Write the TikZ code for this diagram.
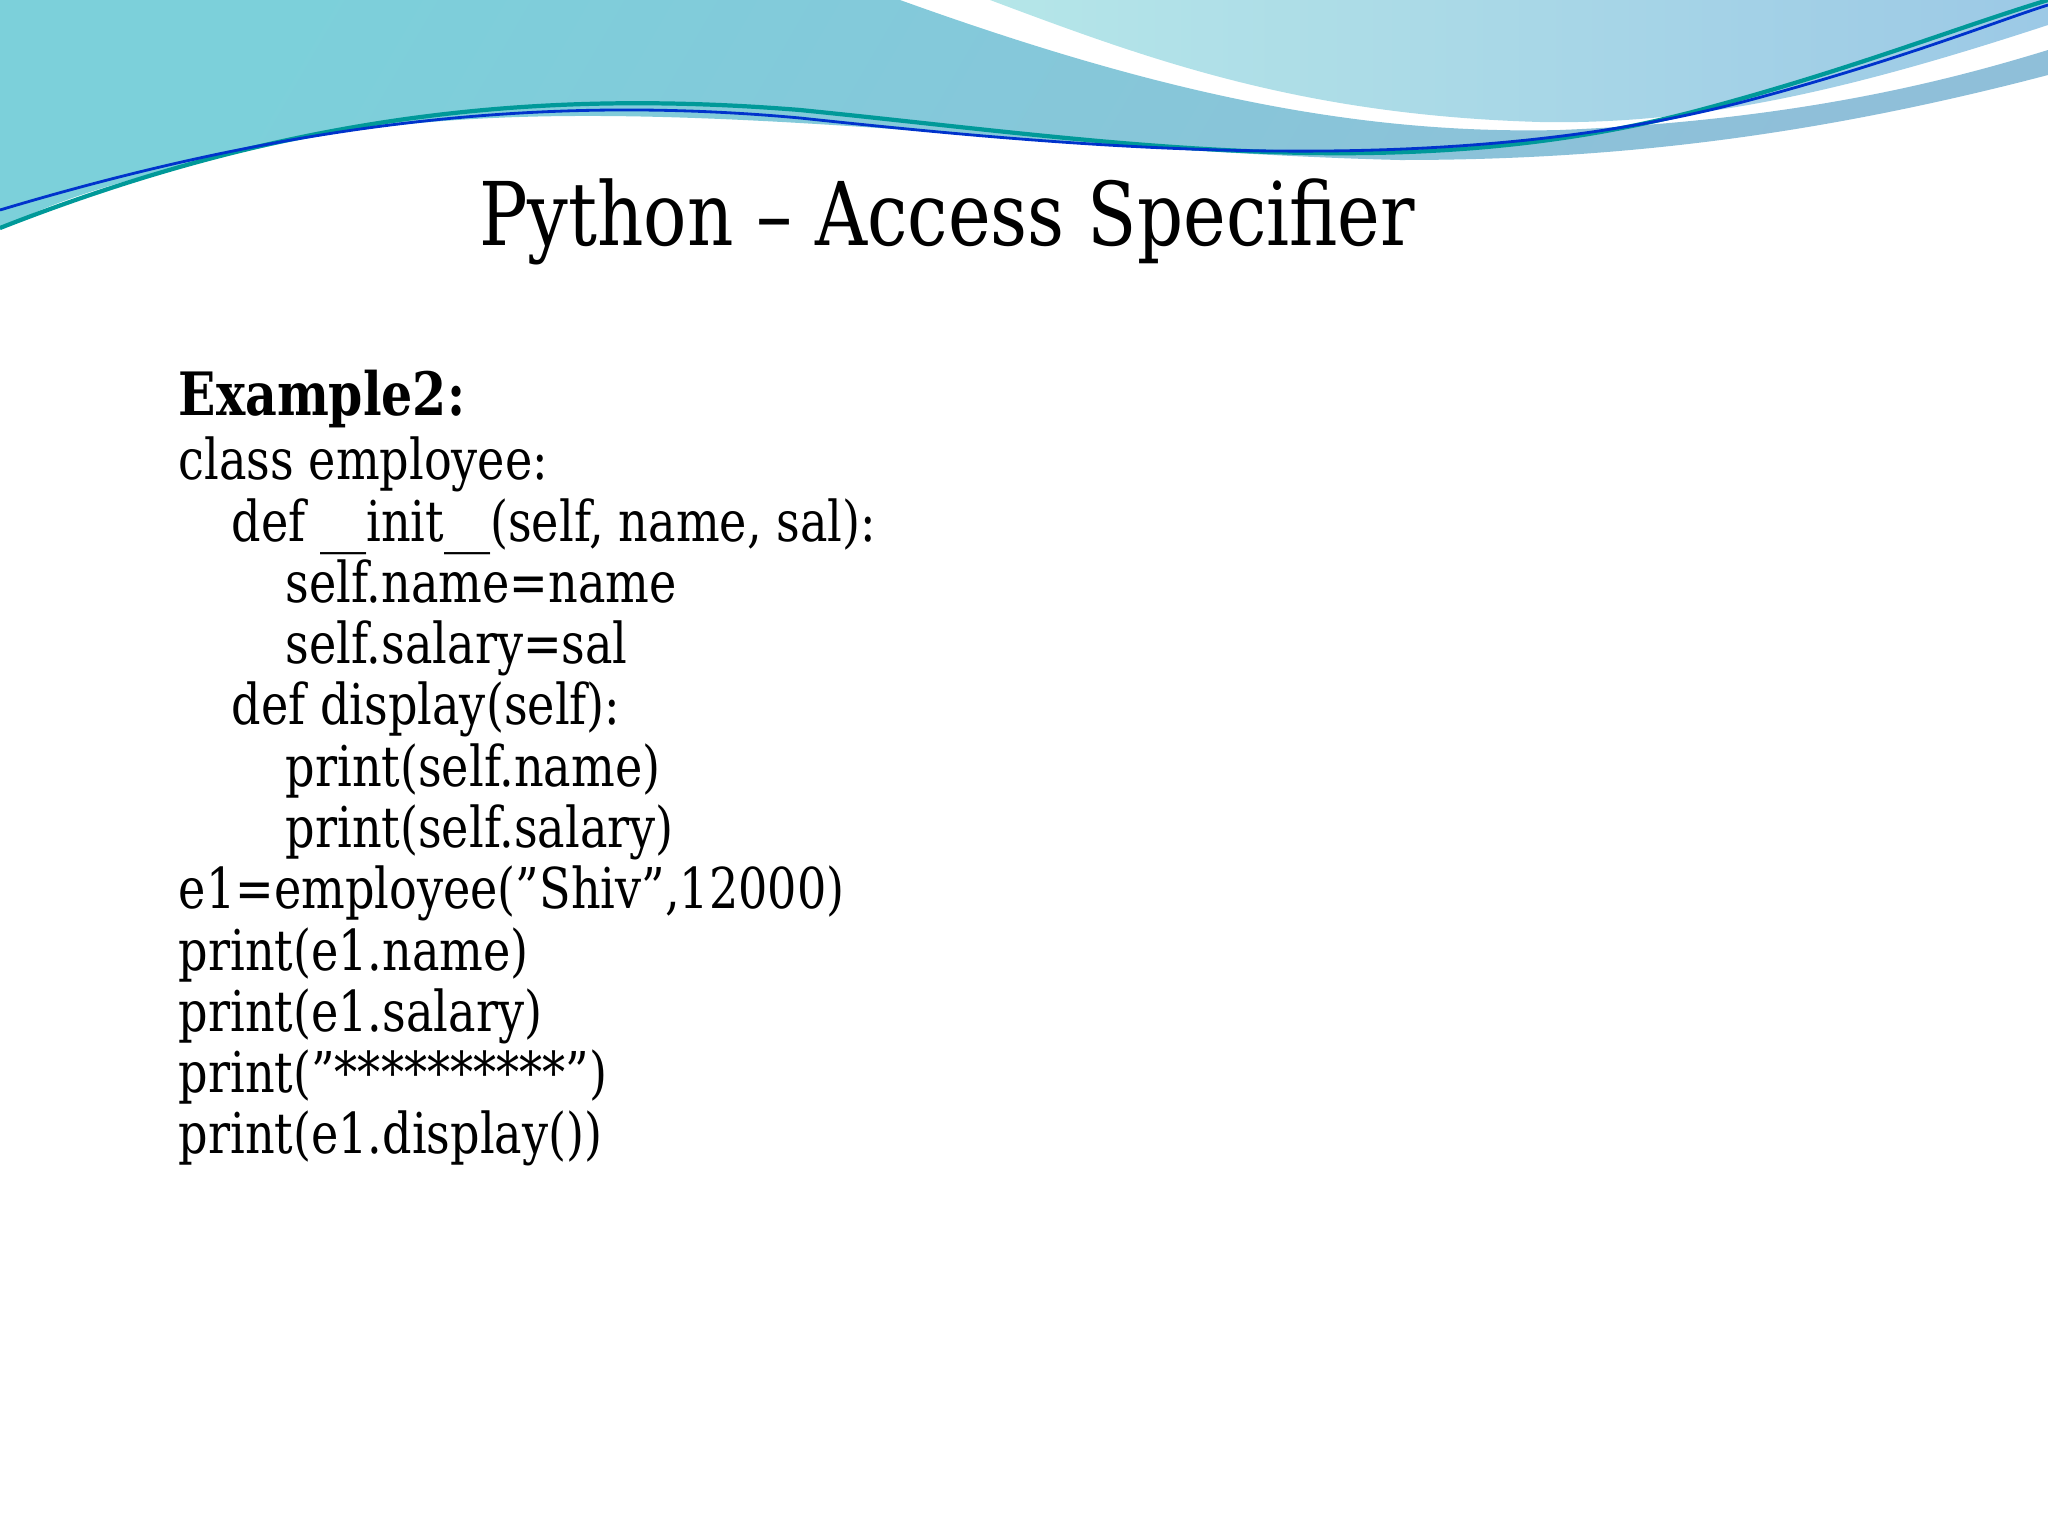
\documentclass[tikz,border=0pt]{standalone}
\usepackage{fontspec}
\setmainfont{DejaVu Serif}
\definecolor{bandL}{HTML}{7CD0DA}
\definecolor{bandR}{HTML}{8FBFD9}
\definecolor{lightL}{HTML}{B5E6E8}
\definecolor{lightR}{HTML}{9CC9E6}
\newcommand{\sq}[1]{\scalebox{0.82}[1]{#1}}
\begin{document}
\begin{tikzpicture}[x=0.01cm,y=-0.01cm,
  code/.style={anchor=base west,inner sep=0pt,font=\fontsize{16}{19}\selectfont}]
\useasboundingbox (0,0) rectangle (2048,1536);
% main band
\shade[left color=bandL, right color=bandR, shading angle=60]
  (0,0) -- (900,0) .. controls (1150,90) and (1350,135) .. (1560,130)
  .. controls (1800,120) and (1950,80) .. (2048,50) -- (2048,75)
  .. controls (1800,140) and (1600,160) .. (1400,160)
  .. controls (1000,150) and (600,80) .. (300,140)
  .. controls (150,170) and (50,200) .. (0,230) -- cycle;
% right light region
\shade[left color=lightL, right color=lightR]
  (990,0) -- (2048,0) -- (2048,25) .. controls (1850,90) and (1700,125) .. (1540,122)
  .. controls (1300,115) and (1150,60) .. (990,0) -- cycle;
\draw[teal!80!cyan, line width=1.2pt]
  (0,228) .. controls (300,110) and (550,90) .. (800,110)
  .. controls (1100,140) and (1400,190) .. (1700,110) .. controls (1850,70) and (1950,30) .. (2048,0);
\draw[blue!60!teal, line width=0.8pt]
  (0,210) .. controls (300,120) and (550,95) .. (800,118)
  .. controls (1100,150) and (1450,180) .. (1750,100) .. controls (1900,60) and (2000,20) .. (2048,5);
\node[anchor=base,inner sep=0pt,font=\fontsize{25}{30}\selectfont] (title) at (947,245) {\sq{Python – Access Specifier}};
\node[code,font=\fontsize{17}{20}\selectfont\bfseries] (ex) at (178,415) {\sq{Example2:}};
\node[code] (l1) at (178,479) {\sq{class employee:}};
\node[code] (l2) at (231,541) {\sq{def \_\_init\_\_(self, name, sal):}};
\node[code] (l3) at (285,602) {\sq{self.name=name}};
\node[code] (l4) at (285,663) {\sq{self.salary=sal}};
\node[code] (l5) at (231,724) {\sq{def display(self):}};
\node[code] (l6) at (285,786) {\sq{print(self.name)}};
\node[code] (l7) at (285,847) {\sq{print(self.salary)}};
\node[code] (l8) at (178,908) {\sq{e1=employee(\symbol{34}Shiv\symbol{34},12000)}};
\node[code] (l9) at (178,970) {\sq{print(e1.name)}};
\node[code] (l10) at (178,1031) {\sq{print(e1.salary)}};
\node[code] (l11) at (178,1092) {\sq{print(\symbol{34}**********\symbol{34})}};
\node[code] (l12) at (178,1153) {\sq{print(e1.display())}};
\end{tikzpicture}
\end{document}
